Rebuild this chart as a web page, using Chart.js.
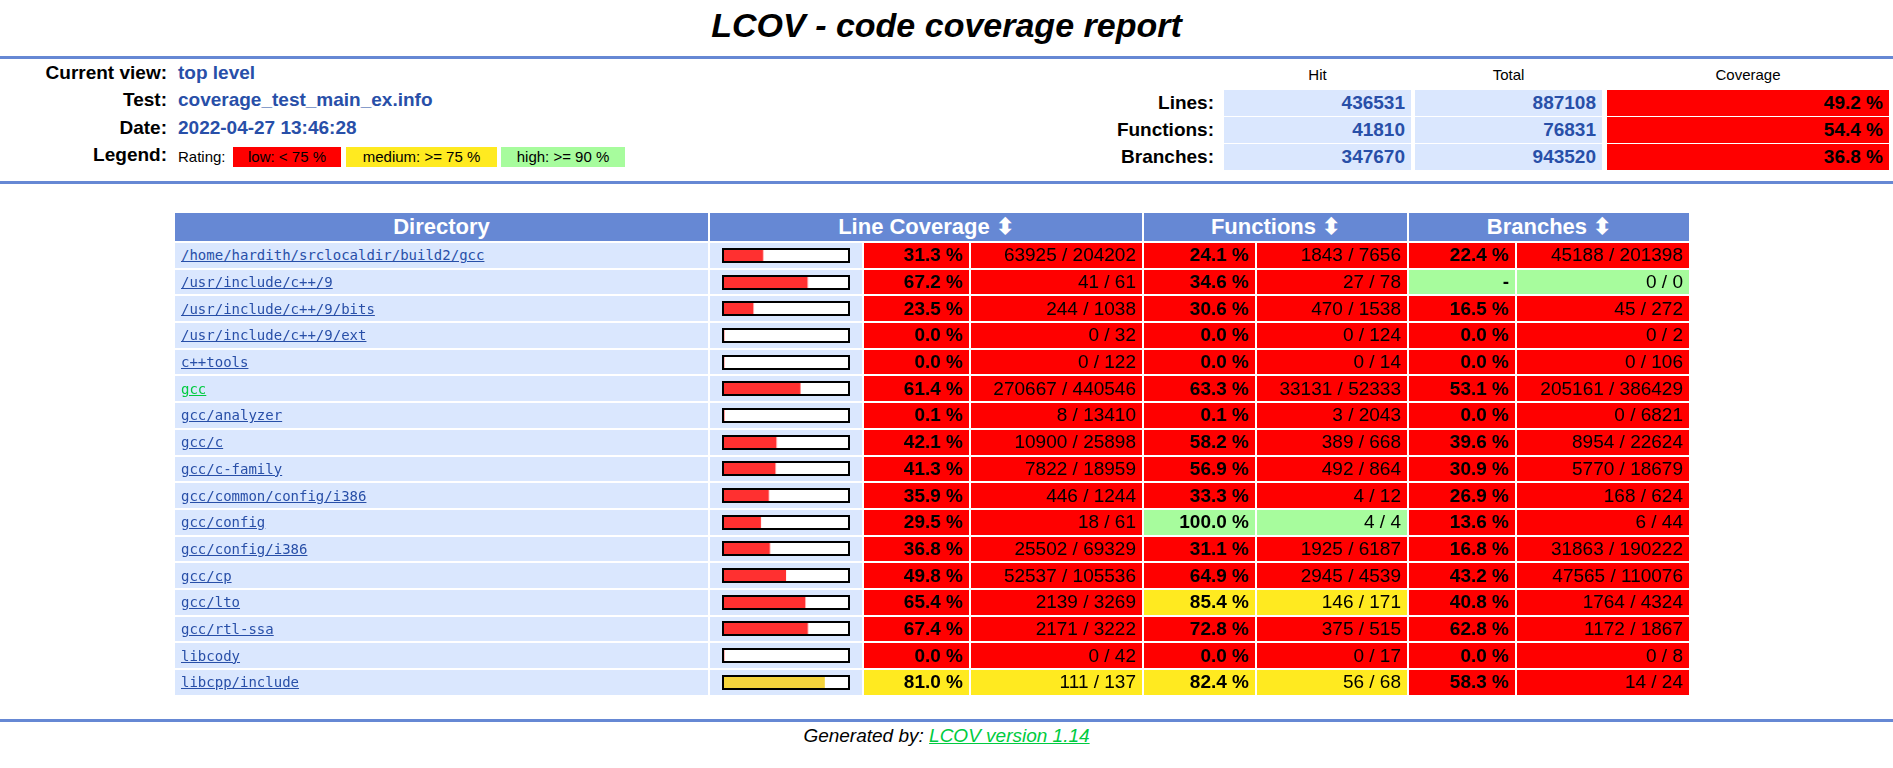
<!DOCTYPE html>
<html lang="en">
<head>
<meta charset="UTF-8">
<title>LCOV - code coverage report</title>
<script src="https://cdn.jsdelivr.net/npm/chart.js@4.4.0/dist/chart.umd.min.js"></script>
<style>
  body { margin: 0; width: 1893px; height: 768px; position: relative; font-family: "Liberation Sans", Arial, sans-serif; background: #fff; overflow: hidden; }
  .abs { position: absolute; }
  .title { left: 0; width: 1893px; top: 6px; text-align: center; font-size: 34px; font-weight: bold; font-style: italic; }
  .hr { left: 0; width: 1893px; height: 3px; background: #6688d4; }
  .lbl { font-weight: bold; font-size: 19px; text-align: right; width: 167px; left: 0; }
  .val { font-weight: bold; font-size: 19px; color: #284fa8; left: 178px; }
  .lg { font-size: 15px; height: 20px; line-height: 20px; text-align: center; top: 147px; }
  .sh { font-size: 15px; text-align: center; top: 66px; }
  .sc { font-size: 19px; font-weight: bold; text-align: right; height: 26px; line-height: 26px; box-sizing: border-box; padding-right: 6px; }
  table { position: absolute; left: 173px; top: 211px; border-collapse: separate; border-spacing: 2px; }
  th { background: #6688d4; color: #fff; font-size: 22px; height: 28px; padding: 0; }
  td { height: 24.7px; padding: 0 6px; font-size: 19px; white-space: nowrap; }
  td.dir { background: #dae7fe; font-family: "DejaVu Sans Mono", monospace; font-size: 14px; }
  td.dir a { color: #284fa8; }
  td.bar { background: #dae7fe; padding: 0; }
  td.pct { font-weight: bold; text-align: right; }
  td.num { text-align: right; }
  canvas { border: 2px solid #000; box-sizing: border-box; margin-left: 12px; }
</style>
</head>
<body>

<div class="abs title">LCOV - code coverage report</div>
<div class="abs hr" style="top:56px"></div>

<div class="abs lbl" style="top:62px">Current view:</div><div class="abs val" style="top:62px">top level</div>
<div class="abs lbl" style="top:89px">Test:</div><div class="abs val" style="top:89px">coverage_test_main_ex.info</div>
<div class="abs lbl" style="top:117px">Date:</div><div class="abs val" style="top:117px">2022-04-27 13:46:28</div>
<div class="abs lbl" style="top:144px">Legend:</div>
<div class="abs" style="top:147px;left:178px;font-size:15px;line-height:20px">Rating:</div>
<div class="abs lg" style="left:233px;width:108px;background:#ff0000">low: &lt; 75 %</div>
<div class="abs lg" style="left:346px;width:151px;background:#ffea20">medium: &gt;= 75 %</div>
<div class="abs lg" style="left:501px;width:124px;background:#a7fc9d">high: &gt;= 90 %</div>

<div id="summary"></div>

<div class="abs hr" style="top:181px"></div>

<table id="tbl">
  <tr>
    <th style="width:533px">Directory</th>
    <th colspan="3">Line Coverage &#x2B0D;</th>
    <th colspan="2">Functions &#x2B0D;</th>
    <th colspan="2">Branches &#x2B0D;</th>
  </tr>
</table>

<div class="abs hr" style="top:719px"></div>
<div class="abs" style="top:725px;left:0;width:1893px;text-align:center;font-size:19px;font-style:italic">Generated by: <a href="#" style="color:#00cb40">LCOV version 1.14</a></div>

<script>
// summary
const sumLabels = ['Lines:', 'Functions:', 'Branches:'];
const sumHit = [436531, 41810, 347670];
const sumTotal = [887108, 76831, 943520];
const sumPct = ['49.2 %', '54.4 %', '36.8 %'];

// per directory
const dirs = ['/home/hardith/srclocaldir/build2/gcc', '/usr/include/c++/9', '/usr/include/c++/9/bits',
  '/usr/include/c++/9/ext', 'c++tools', 'gcc', 'gcc/analyzer', 'gcc/c', 'gcc/c-family',
  'gcc/common/config/i386', 'gcc/config', 'gcc/config/i386', 'gcc/cp', 'gcc/lto', 'gcc/rtl-ssa',
  'libcody', 'libcpp/include'];
const linePct = [31.3, 67.2, 23.5, 0.0, 0.0, 61.4, 0.1, 42.1, 41.3, 35.9, 29.5, 36.8, 49.8, 65.4, 67.4, 0.0, 81.0];
const lineHit = [63925, 41, 244, 0, 0, 270667, 8, 10900, 7822, 446, 18, 25502, 52537, 2139, 2171, 0, 111];
const lineTot = [204202, 61, 1038, 32, 122, 440546, 13410, 25898, 18959, 1244, 61, 69329, 105536, 3269, 3222, 42, 137];
const fnPct = [24.1, 34.6, 30.6, 0.0, 0.0, 63.3, 0.1, 58.2, 56.9, 33.3, 100.0, 31.1, 64.9, 85.4, 72.8, 0.0, 82.4];
const fnHit = [1843, 27, 470, 0, 0, 33131, 3, 389, 492, 4, 4, 1925, 2945, 146, 375, 0, 56];
const fnTot = [7656, 78, 1538, 124, 14, 52333, 2043, 668, 864, 12, 4, 6187, 4539, 171, 515, 17, 68];
const brPct = [22.4, null, 16.5, 0.0, 0.0, 53.1, 0.0, 39.6, 30.9, 26.9, 13.6, 16.8, 43.2, 40.8, 62.8, 0.0, 58.3];
const brHit = [45188, 0, 45, 0, 0, 205161, 0, 8954, 5770, 168, 6, 31863, 47565, 1764, 1172, 0, 14];
const brTot = [201398, 0, 272, 2, 106, 386429, 6821, 22624, 18679, 624, 44, 190222, 110076, 4324, 1867, 8, 24];

function rateColor(p) {
  if (p === null || p >= 90) return '#a7fc9d';
  if (p >= 75) return '#ffea20';
  return '#ff0000';
}
function fmt(p) { return p === null ? '-' : p.toFixed(1) + ' %'; }

// summary block
const sum = document.getElementById('summary');
let html = '<div class="abs sh" style="left:1224px;width:187px">Hit</div>' +
  '<div class="abs sh" style="left:1415px;width:187px">Total</div>' +
  '<div class="abs sh" style="left:1607px;width:282px">Coverage</div>';
sumLabels.forEach((l, i) => {
  const top = 90 + i * 27;
  html += `<div class="abs sc" style="top:${top}px;left:1000px;width:220px">${l}</div>` +
    `<div class="abs sc" style="top:${top}px;left:1224px;width:187px;background:#dae7fe;color:#284fa8">${sumHit[i]}</div>` +
    `<div class="abs sc" style="top:${top}px;left:1415px;width:187px;background:#dae7fe;color:#284fa8">${sumTotal[i]}</div>` +
    `<div class="abs sc" style="top:${top}px;left:1607px;width:282px;background:#ff0000">${sumPct[i]}</div>`;
});
sum.innerHTML = html;

// table rows
const tbl = document.getElementById('tbl');
const widths = [152, 105, 171, 111, 150, 106, 172];
dirs.forEach((d, i) => {
  const tr = document.createElement('tr');
  const linkColor = d === 'gcc' ? ' style="color:#00cb40"' : '';
  tr.innerHTML =
    `<td class="dir"><a href="#"${linkColor}>${d}</a></td>` +
    `<td class="bar" style="width:${widths[0]}px"><canvas id="bar${i}" width="128" height="15"></canvas></td>` +
    `<td class="pct" style="width:${widths[1] - 12}px;background:${rateColor(linePct[i])}">${fmt(linePct[i])}</td>` +
    `<td class="num" style="width:${widths[2] - 12}px;background:${rateColor(linePct[i])}">${lineHit[i]} / ${lineTot[i]}</td>` +
    `<td class="pct" style="width:${widths[3] - 12}px;background:${rateColor(fnPct[i])}">${fmt(fnPct[i])}</td>` +
    `<td class="num" style="width:${widths[4] - 12}px;background:${rateColor(fnPct[i])}">${fnHit[i]} / ${fnTot[i]}</td>` +
    `<td class="pct" style="width:${widths[5] - 12}px;background:${rateColor(brPct[i])}">${fmt(brPct[i])}</td>` +
    `<td class="num" style="width:${widths[6] - 12}px;background:${rateColor(brPct[i])}">${brHit[i]} / ${brTot[i]}</td>`;
  tbl.appendChild(tr);
});

// coverage bars drawn by Chart.js
dirs.forEach((d, i) => {
  const fill = linePct[i] >= 75 ? '#f5d43c' : '#ff3030';
  new Chart(document.getElementById('bar' + i), {
    type: 'bar',
    data: {
      labels: [d],
      datasets: [
        { data: [linePct[i]], backgroundColor: fill, borderWidth: 0, barPercentage: 1, categoryPercentage: 1 },
        { data: [100 - linePct[i]], backgroundColor: '#ffffff', borderWidth: 0, barPercentage: 1, categoryPercentage: 1 }
      ]
    },
    options: {
      indexAxis: 'y',
      responsive: false,
      animation: false,
      layout: { padding: 0 },
      plugins: { legend: { display: false }, tooltip: { enabled: false } },
      scales: {
        x: { stacked: true, min: 0, max: 100, display: false },
        y: { stacked: true, display: false }
      }
    }
  });
});
</script>
</body>
</html>
